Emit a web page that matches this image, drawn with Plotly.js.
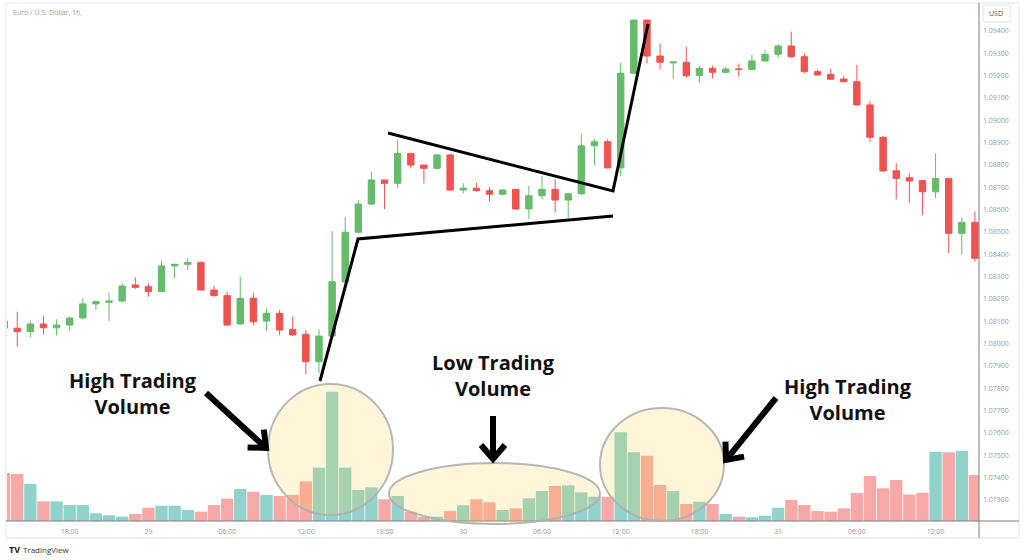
<!DOCTYPE html>
<html>
<head>
<meta charset="utf-8">
<script src="https://cdn.plot.ly/plotly-3.0.1.min.js"></script>
<style>html,body{margin:0;padding:0;background:#fff;}#chart{width:1024px;height:560px;}</style>
</head>
<body>
<div id="chart"></div>
<script>
// ---- Data (EUR/USD, 1h candles, 28 Mar 13:00 -> 31 Mar 15:00) ----
const startTime = Date.UTC(2023, 2, 28, 13);
const candleCount = 75;

const open = [1.08101,1.08069,1.08054,1.08088,1.08071,1.08083,1.08115,1.08178,1.08185,1.08191,
1.08263,1.08255,1.08234,1.08348,1.08355,1.08364,1.08240,1.08215,1.08088,1.08203,
1.08101,1.08136,1.08064,1.08042,1.07919,1.08034,1.08277,1.08499,1.08625,1.08733,
1.08718,1.08852,1.08800,1.08785,1.08845,1.08688,1.08696,1.08685,1.08669,1.08691,
1.08603,1.08662,1.08691,1.08643,1.08671,1.08886,1.08904,1.08787,1.09211,1.09449,
1.09288,1.09257,1.09260,1.09200,1.09233,1.09215,1.09230,1.09228,1.09266,1.09296,
1.09333,1.09285,1.09218,1.09206,1.09185,1.09173,1.09069,1.08924,1.08774,1.08743,
1.08730,1.08680,1.08740,1.08494,1.08543];

const high = [1.08110,1.08143,1.08103,1.08124,1.08109,1.08121,1.08203,1.08195,1.08228,1.08270,
1.08297,1.08270,1.08370,1.08360,1.08382,1.08367,1.08259,1.08233,1.08300,1.08228,
1.08158,1.08151,1.08121,1.08061,1.08064,1.08504,1.08568,1.08643,1.08770,1.08733,
1.08915,1.08852,1.08800,1.08848,1.08852,1.08718,1.08721,1.08700,1.08691,1.08692,
1.08707,1.08751,1.08737,1.08676,1.08937,1.08916,1.08915,1.09258,1.09451,1.09451,
1.09345,1.09262,1.09330,1.09243,1.09245,1.09240,1.09255,1.09293,1.09315,1.09340,
1.09397,1.09300,1.09228,1.09230,1.09200,1.09248,1.09087,1.08930,1.08808,1.08763,
1.08731,1.08852,1.08742,1.08566,1.08591];

const low = [1.08061,1.07986,1.08027,1.08039,1.08036,1.08057,1.08109,1.08151,1.08101,1.08183,
1.08245,1.08210,1.08233,1.08293,1.08330,1.08238,1.08210,1.08081,1.08083,1.08083,
1.08057,1.08039,1.08036,1.07863,1.07867,1.08030,1.08270,1.08494,1.08621,1.08603,
1.08696,1.08785,1.08718,1.08782,1.08685,1.08673,1.08680,1.08636,1.08666,1.08602,
1.08558,1.08646,1.08586,1.08561,1.08666,1.08800,1.08785,1.08748,1.09207,1.09255,
1.09229,1.09185,1.09191,1.09169,1.09188,1.09211,1.09195,1.09225,1.09263,1.09280,
1.09280,1.09211,1.09201,1.09181,1.09170,1.09065,1.08902,1.08771,1.08646,1.08631,
1.08576,1.08651,1.08405,1.08397,1.08367];

const close = [1.08069,1.08054,1.08088,1.08071,1.08083,1.08115,1.08178,1.08188,1.08191,1.08258,
1.08252,1.08233,1.08348,1.08355,1.08364,1.08240,1.08215,1.08083,1.08203,1.08098,
1.08136,1.08061,1.08039,1.07919,1.08034,1.08277,1.08499,1.08625,1.08733,1.08718,
1.08852,1.08800,1.08785,1.08845,1.08688,1.08696,1.08685,1.08669,1.08688,1.08603,
1.08662,1.08691,1.08643,1.08671,1.08886,1.08904,1.08787,1.09211,1.09449,1.09288,
1.09260,1.09261,1.09200,1.09233,1.09215,1.09230,1.09228,1.09266,1.09296,1.09333,
1.09285,1.09218,1.09203,1.09184,1.09173,1.09069,1.08924,1.08773,1.08740,1.08728,
1.08680,1.08740,1.08494,1.08543,1.08382];

const volume = [4800,4700,3700,1970,1970,1600,1600,770,570,430,
700,1330,1530,1530,1100,930,1600,2230,3200,2930,
2600,2500,2600,3970,5330,12930,5330,3100,3370,2170,
2500,930,400,430,1000,1570,2170,1870,1100,1270,
2270,3000,3500,3570,2870,2430,2430,8870,6870,6530,
3600,3000,1700,1930,1700,700,430,370,530,1330,
2100,1600,1000,930,1270,2800,4500,3270,4100,2650,
2820,6930,6870,7030,4600];

const timeTickVals = ['2023-03-28 18:00','2023-03-29 00:00','2023-03-29 06:00','2023-03-29 12:00',
  '2023-03-29 18:00','2023-03-30 00:00','2023-03-30 06:00','2023-03-30 12:00','2023-03-30 18:00',
  '2023-03-31 00:00','2023-03-31 06:00','2023-03-31 12:00'];
const timeTickText = ['18:00','29','06:00','12:00','18:00','30','06:00','12:00','18:00','31','06:00','12:00'];
const priceTicks = [1.073,1.074,1.075,1.076,1.077,1.078,1.079,1.080,1.081,1.082,1.083,
  1.084,1.085,1.086,1.087,1.088,1.089,1.090,1.091,1.092,1.093,1.094];

// ---- helpers ----
function pad(n){return (n<10?'0':'')+n;}
function fmt(ms){const d=new Date(ms);return d.getUTCFullYear()+'-'+pad(d.getUTCMonth()+1)+'-'+pad(d.getUTCDate())+' '+pad(d.getUTCHours())+':'+pad(d.getUTCMinutes())+':'+pad(d.getUTCSeconds());}
const times = [];
for (let i=0;i<candleCount;i++) times.push(fmt(startTime + i*3600000));

const volColors = close.map((c,i)=> c>=open[i] ? 'rgba(38,166,154,0.5)' : 'rgba(239,83,80,0.5)');

// pixel -> paper helpers for decorations
const PL=7, PR=979, PT=3, PB=521;
const X = px => (px-PL)/(PR-PL);
const Y = py => (PB-py)/(PB-PT);
function P(pts){return pts.map((p,k)=>(k?'L':'M')+X(p[0]).toFixed(5)+','+Y(p[1]).toFixed(5)).join(' ');}

const shapes = [];
// frame and separators
shapes.push({type:'rect',xref:'paper',yref:'paper',x0:X(6),x1:X(1019),y0:Y(538),y1:Y(3),line:{color:'#e3e3e3',width:1},layer:'below'});
shapes.push({type:'line',xref:'paper',yref:'paper',x0:X(979),x1:X(979),y0:Y(538),y1:Y(3),line:{color:'#7d7d7d',width:1}});
shapes.push({type:'line',xref:'paper',yref:'paper',x0:X(6),x1:X(1019),y0:Y(521),y1:Y(521),line:{color:'#7d7d7d',width:1}});
// USD box
shapes.push({type:'rect',xref:'paper',yref:'paper',x0:X(983),x1:X(1010),y0:Y(22),y1:Y(5),line:{color:'#e3e3e3',width:1}});

// highlight ellipses
const ellFill='rgba(255,205,50,0.18)', ellLine='rgba(175,175,175,0.9)';
[[268,384,393,515],[389,463,600,524],[600,408,724,521]].forEach(e=>{
  shapes.push({type:'circle',xref:'paper',yref:'paper',x0:X(e[0]),x1:X(e[2]),y0:Y(e[3]),y1:Y(e[1]),
    fillcolor:ellFill,line:{color:ellLine,width:2},layer:'above'});
});

// pattern lines
shapes.push({type:'path',xref:'paper',yref:'paper',path:P([[320,381],[358,239],[613,216]]),line:{color:'#000',width:3}});
shapes.push({type:'path',xref:'paper',yref:'paper',path:P([[388,133],[613,191],[648,24]]),line:{color:'#000',width:3}});

// arrows
function arrow(x1,y1,x2,y2){
  const dx=x2-x1, dy=y2-y1, L=Math.hypot(dx,dy), ux=dx/L, uy=dy/L, nx=-uy, ny=ux;
  const hl=14, hw=12;
  shapes.push({type:'path',xref:'paper',yref:'paper',path:P([[x1,y1],[x2-3*ux,y2-3*uy]]),line:{color:'#000',width:6}});
  shapes.push({type:'path',xref:'paper',yref:'paper',path:P([[x2-hl*ux+hw*nx,y2-hl*uy+hw*ny],[x2,y2],[x2-hl*ux-hw*nx,y2-hl*uy-hw*ny]]),line:{color:'#000',width:6}});
}
arrow(206,393,266,448);
arrow(493,416,493,459);
arrow(776,398,726,460);

const bold = {family:'Open Sans', size:20, color:'#111', weight:700};
function txt(t,px,py,font,xanchor){return {xref:'paper',yref:'paper',x:X(px),y:Y(py),text:t,showarrow:false,font:font,xanchor:xanchor||'center',yanchor:'middle'};}
const annotations = [
  txt('High Trading<br>Volume',133,394,bold),
  txt('Low Trading<br>Volume',494,375,bold),
  txt('High Trading<br>Volume',848,399,bold),
  txt('Euro / U.S. Dollar, 1h,',11,13,{family:'Open Sans',size:7,color:'#9a9a9a'},'left'),
  txt('USD',996,14,{family:'Open Sans',size:7,color:'#555'}),
  txt('<b>TV</b>',7,549,{family:'Open Sans',size:9,color:'#222'},'left'),
  txt('TradingView',21,549,{family:'Open Sans',size:8,color:'#333'},'left')
];

const traces = [
  {type:'bar', x:times, y:volume, xaxis:'x', yaxis:'y', marker:{color:volColors,line:{width:0}}, hoverinfo:'skip', showlegend:false},
  {type:'candlestick', x:times, open:open, high:high, low:low, close:close, xaxis:'x', yaxis:'y2',
   increasing:{line:{color:'#66bb6a',width:1}, fillcolor:'#66bb6a'},
   decreasing:{line:{color:'#ef5350',width:1}, fillcolor:'#ef5350'},
   whiskerwidth:0, hoverinfo:'skip', showlegend:false}
];

const layout = {
  width:1024, height:560,
  margin:{l:PL, r:1024-PR, t:PT, b:560-PB},
  paper_bgcolor:'#fff', plot_bgcolor:'#fff',
  showlegend:false, bargap:0.06,
  xaxis:{type:'date', range:['2023-03-28 13:13:16','2023-03-31 15:18:36'], rangeslider:{visible:false},
    showgrid:false, zeroline:false, showline:false, ticks:'', tickvals:timeTickVals, ticktext:timeTickText,
    ticklabelstandoff:5,
    tickfont:{family:'Open Sans',size:7,color:'#9a9a9a'}, fixedrange:true},
  yaxis:{range:[0,51800], visible:false, showgrid:false, zeroline:false, fixedrange:true},
  yaxis2:{overlaying:'y', side:'right', range:[1.072058,1.095254], showgrid:false, zeroline:false, showline:false,
    ticks:'', tickvals:priceTicks, tickformat:'.5f', ticklabelstandoff:3,
    tickfont:{family:'Open Sans',size:7,color:'#9a9a9a'}, fixedrange:true},
  shapes:shapes, annotations:annotations
};

Plotly.newPlot('chart', traces, layout, {staticPlot:true, displayModeBar:false});
</script>
</body>
</html>
